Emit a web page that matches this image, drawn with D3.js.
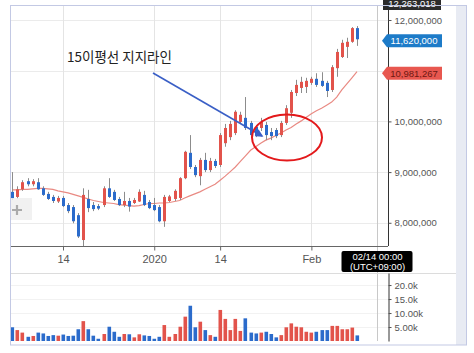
<!DOCTYPE html>
<html>
<head>
<meta charset="utf-8">
<script src="https://cdn.jsdelivr.net/npm/d3@7"></script>
<style>
  body { margin: 0; background: #fff; }
  svg { display: block; }
  text { font-family: Arial, "Liberation Sans", sans-serif; }
</style>
</head>
<body>
<svg id="chart" width="474" height="353"></svg>
<script>
// BTC/KRW daily candles, prices in thousand KRW
var dates = [
  '2019-12-04','2019-12-05','2019-12-06','2019-12-07','2019-12-08','2019-12-09','2019-12-10','2019-12-11','2019-12-12','2019-12-13',
  '2019-12-14','2019-12-15','2019-12-16','2019-12-17','2019-12-18','2019-12-19','2019-12-20','2019-12-21','2019-12-22','2019-12-23',
  '2019-12-24','2019-12-25','2019-12-26','2019-12-27','2019-12-28','2019-12-29','2019-12-30','2019-12-31',
  '2020-01-01','2020-01-02','2020-01-03','2020-01-04','2020-01-05','2020-01-06','2020-01-07','2020-01-08','2020-01-09','2020-01-10',
  '2020-01-11','2020-01-12','2020-01-13','2020-01-14','2020-01-15','2020-01-16','2020-01-17','2020-01-18','2020-01-19','2020-01-20',
  '2020-01-21','2020-01-22','2020-01-23','2020-01-24','2020-01-25','2020-01-26','2020-01-27','2020-01-28','2020-01-29','2020-01-30','2020-01-31',
  '2020-02-01','2020-02-02','2020-02-03','2020-02-04','2020-02-05','2020-02-06','2020-02-07','2020-02-08','2020-02-09','2020-02-10'
];
var opens = [
  8610, 8510, 8660, 8820, 8760, 8800, 8680, 8570, 8510, 8420,
  8490, 8350, 8310, 8150, 7660, 8470, 8350, 8330, 8350, 8680,
  8610, 8470, 8350, 8430, 8390, 8420, 8550, 8410,
  8350, 8310, 8030, 8430, 8470, 8490, 8880, 9380, 9100, 8920,
  9240, 9040, 9220, 9140, 9570, 9690, 9770, 9990, 10070, 9970,
  9890, 9870, 9930, 9790, 9830, 9730, 9970, 10170, 10560, 10660, 10680,
  10760, 10840, 10800, 10760, 10620, 11050, 11270, 11470, 11570, 11840
];
var highs = [
  9000, 8720, 8840, 8880, 8860, 8880, 8720, 8610, 8550, 8530,
  8530, 8390, 8350, 8190, 8680, 8650, 8410, 8370, 8720, 8880,
  8650, 8510, 8610, 8490, 8490, 8660, 8630, 8450,
  8490, 8350, 8550, 8550, 8660, 8900, 9420, 9730, 9140, 9280,
  9380, 9280, 9260, 9770, 9950, 10010, 10220, 10190, 10480, 10010,
  9930, 10070, 9990, 9870, 9870, 10010, 10320, 10620, 10820, 10880, 10860,
  10880, 10950, 10970, 10800, 11110, 11430, 11610, 11650, 11860, 11880
];
var lows = [
  8450, 8470, 8630, 8720, 8720, 8650, 8530, 8450, 8390, 8390,
  8310, 8190, 7990, 7700, 7480, 8210, 8230, 8250, 8310, 8490,
  8430, 8330, 8310, 8220, 8370, 8410, 8330, 8270,
  8230, 8010, 7920, 8410, 8430, 8450, 8860, 9060, 8900, 8740,
  9000, 9000, 9080, 9100, 9500, 9630, 9730, 9950, 9830, 9690,
  9690, 9810, 9630, 9630, 9670, 9690, 9930, 10070, 10500, 10560, 10560,
  10720, 10680, 10680, 10480, 10580, 10880, 11250, 11250, 11550, 11490
];
var closes = [
  8480, 8660, 8800, 8760, 8820, 8660, 8550, 8470, 8430, 8490,
  8330, 8230, 8030, 7730, 8550, 8290, 8270, 8280, 8680, 8510,
  8450, 8350, 8430, 8320, 8450, 8610, 8350, 8290,
  8250, 8030, 8510, 8520, 8630, 8880, 9400, 9100, 8940, 9240,
  9040, 9220, 9120, 9730, 9870, 9950, 10190, 10130, 9870, 9730,
  9730, 9990, 9730, 9710, 9710, 9970, 10260, 10580, 10720, 10780, 10800,
  10840, 10720, 10700, 10600, 11070, 11370, 11550, 11570, 11840, 11620
];
// 15-day moving average
var ma15 = [
  8650, 8650, 8660, 8660, 8670, 8680, 8680, 8670, 8660, 8630,
  8610, 8590, 8560, 8530, 8500, 8470, 8440, 8420, 8400, 8390,
  8380, 8360, 8350, 8340, 8330, 8340, 8360, 8380,
  8380, 8390, 8390, 8400, 8420, 8440, 8490, 8530, 8570, 8610,
  8660, 8710, 8760, 8840, 8920, 9010, 9100, 9210, 9320, 9430,
  9500, 9570, 9630, 9670, 9720, 9770, 9830, 9880, 9950, 10010, 10080,
  10150, 10210, 10260, 10320, 10380, 10480, 10620, 10740, 10860, 10981.267
];
// volume, thousands
var volume = [
  4.9, 3.9, 3.0, 1.5, 1.8, 3.0, 2.7, 1.8, 2.1, 1.9,
  2.3, 1.8, 1.9, 4.2, 7.1, 4.2, 1.9, 0.8, 2.5, 5.1,
  3.3, 1.5, 2.5, 2.4, 1.3, 2.4, 2.0, 1.8,
  0.8, 1.5, 5.7, 1.5, 2.5, 5.1, 8.7, 12.6, 4.9, 6.9,
  3.9, 2.1, 1.5, 11.1, 7.9, 3.9, 7.9, 3.6, 8.1, 3.0,
  2.7, 3.0, 3.3, 2.5, 1.3, 2.1, 4.9, 6.3, 5.1, 4.9, 3.3,
  3.0, 3.3, 3.9, 3.9, 5.4, 5.4, 4.2, 4.2, 4.8, 2.0
];

var priceTicks = [8000, 9000, 10000, 11000, 12000];
var priceTickLabels = ['8,000,000', '9,000,000', '10,000,000', '11,000,000', '12,000,000'];
var dateTicks = ['2019-12-14', '2020-01-01', '2020-01-14', '2020-02-01'];
var dateTickLabels = ['14', '2020', '14', 'Feb'];
var volTicks = [5, 10, 15, 20];
var volTickLabels = ['5.00k', '10.00k', '15.0k', '20.0k'];

var topPrice = 12263.018;
var lastPrice = 11620;
var lastMa = 10981.267;
var crossDate = '2020-02-14';

var parse = d3.timeParse('%Y-%m-%d');
var candles = dates.map(function(d, i) {
  return { date: parse(d), o: opens[i], h: highs[i], l: lows[i], c: closes[i], ma: ma15[i], v: volume[i] };
});

var svg = d3.select('#chart');
var RED = '#e2534b', BLUE = '#2b6bcb';

var plotLeft = 10, axisX = 388, plotTop = 5, mainBottom = 246, volTop = 273, volBottom = 341;

var x = d3.scaleTime()
  .domain([parse('2019-12-14'), parse('2020-02-10')])
  .range([63, 357]);
var y = d3.scaleLinear().domain([7542, 12296]).range([mainBottom, plotTop]);
var yv = d3.scaleLinear().domain([0, 24.3]).range([volBottom, volTop]);

// right strip
svg.append('rect').attr('x', 456).attr('y', 5.5).attr('width', 10).attr('height', 339.5).attr('fill', '#e8ebf3');

svg.append('clipPath').attr('id', 'mainClip')
  .append('rect').attr('x', plotLeft).attr('y', plotTop).attr('width', axisX - plotLeft).attr('height', mainBottom - plotTop);
svg.append('clipPath').attr('id', 'volClip')
  .append('rect').attr('x', plotLeft).attr('y', volTop).attr('width', axisX - plotLeft).attr('height', volBottom - volTop);

// grid
var grid = svg.append('g');
grid.selectAll('.hg').data(priceTicks).enter().append('line')
  .attr('x1', plotLeft).attr('x2', axisX)
  .attr('y1', function(d) { return Math.round(y(d)) + 0.5; })
  .attr('y2', function(d) { return Math.round(y(d)) + 0.5; })
  .attr('stroke', '#ebebeb');
grid.selectAll('.vg').data(dateTicks).enter().append('line')
  .attr('x1', function(d) { return Math.round(x(parse(d))) + 0.5; })
  .attr('x2', function(d) { return Math.round(x(parse(d))) + 0.5; })
  .attr('y1', plotTop).attr('y2', mainBottom)
  .attr('stroke', '#e4e4e4');
grid.selectAll('.vgv').data(volTicks).enter().append('line')
  .attr('x1', plotLeft).attr('x2', axisX)
  .attr('y1', function(d) { return Math.round(yv(d)) + 0.5; })
  .attr('y2', function(d) { return Math.round(yv(d)) + 0.5; })
  .attr('stroke', '#f2f2f2');

// crosshair
var cx = Math.round(x(parse(crossDate))) + 0.5;
svg.append('line').attr('x1', cx).attr('x2', cx).attr('y1', plotTop).attr('y2', volBottom)
  .attr('stroke', '#c8c8c8');

// moving average
var main = svg.append('g').attr('clip-path', 'url(#mainClip)');
main.append('path')
  .datum(candles)
  .attr('fill', 'none')
  .attr('stroke', '#e98a83')
  .attr('stroke-width', 1.2)
  .attr('d', d3.line()
    .x(function(d) { return x(d.date); })
    .y(function(d) { return y(d.ma); }));

// candles
var cg = main.selectAll('.candle').data(candles).enter().append('g');
cg.append('line')
  .attr('x1', function(d) { return Math.round(x(d.date)) + 0.5; })
  .attr('x2', function(d) { return Math.round(x(d.date)) + 0.5; })
  .attr('y1', function(d) { return y(d.h); })
  .attr('y2', function(d) { return y(d.l); })
  .attr('stroke', '#8c8c8c');
cg.append('rect')
  .attr('x', function(d) { return Math.round(x(d.date)) - 1; })
  .attr('width', 3)
  .attr('y', function(d) { return y(Math.max(d.o, d.c)); })
  .attr('height', function(d) { return Math.max(1, Math.abs(y(d.o) - y(d.c))); })
  .attr('fill', function(d) { return d.c >= d.o ? RED : BLUE; });

// volume bars
svg.append('g').attr('clip-path', 'url(#volClip)')
  .selectAll('rect').data(candles).enter().append('rect')
  .attr('x', function(d) { return Math.round(x(d.date)) - 1.5; })
  .attr('width', 3.6)
  .attr('y', function(d) { return yv(d.v); })
  .attr('height', function(d) { return volBottom - yv(d.v); })
  .attr('fill', function(d) { return d.c >= d.o ? RED : BLUE; });

// axes
svg.append('line').attr('x1', plotLeft).attr('x2', axisX).attr('y1', mainBottom + 0.5).attr('y2', mainBottom + 0.5)
  .attr('stroke', '#666');
svg.append('line').attr('x1', plotLeft).attr('x2', 456).attr('y1', volTop + 0.5).attr('y2', volTop + 0.5)
  .attr('stroke', '#dcdcdc');

var xAxis = svg.append('g').attr('transform', 'translate(0,' + (mainBottom + 0.5) + ')')
  .call(d3.axisBottom(x)
    .tickValues(dateTicks.map(parse))
    .tickFormat(function(d, i) { return dateTickLabels[i]; })
    .tickSize(4).tickSizeOuter(0).tickPadding(5));
xAxis.select('.domain').remove();
xAxis.selectAll('line').attr('stroke', '#666');
xAxis.selectAll('text').attr('fill', '#555').style('font-size', '11px');

var yAxis = svg.append('g').attr('transform', 'translate(' + (axisX + 0.5) + ',0)')
  .call(d3.axisRight(y)
    .tickValues(priceTicks)
    .tickFormat(function(d, i) { return priceTickLabels[i]; })
    .tickSize(3).tickSizeOuter(0).tickPadding(3));
yAxis.select('.domain').attr('stroke', '#333').attr('d', 'M0,' + plotTop + 'V' + mainBottom);
yAxis.selectAll('line').attr('stroke', '#555');
yAxis.selectAll('text').attr('fill', '#555').style('font-size', '9.5px');

var vAxis = svg.append('g').attr('transform', 'translate(' + (axisX + 0.5) + ',0)')
  .call(d3.axisRight(yv)
    .tickValues(volTicks)
    .tickFormat(function(d, i) { return volTickLabels[i]; })
    .tickSize(3).tickSizeOuter(0).tickPadding(3));
vAxis.select('.domain').attr('stroke', '#333');
vAxis.selectAll('line').attr('stroke', '#555');
vAxis.selectAll('text').attr('fill', '#555').style('font-size', '9.5px');

// price labels on the axis
function priceTag(value, text, fill, color) {
  var yc = y(value) + 1.5;
  svg.append('path')
    .attr('d', 'M382,' + yc + 'L387,' + (yc - 6.5) + 'H442V' + (yc + 6.5) + 'H387Z')
    .attr('fill', fill);
  svg.append('text').attr('x', 414).attr('y', yc + 3.5).attr('text-anchor', 'middle')
    .attr('fill', color).style('font-size', '9.5px').text(text);
}
svg.append('rect').attr('x', 383).attr('y', -4).attr('width', 58).attr('height', 14).attr('fill', '#2b2b2b');
svg.append('text').attr('x', 412).attr('y', y(topPrice) + 0.5).attr('text-anchor', 'middle')
  .attr('fill', '#fff').style('font-size', '9.5px').text(d3.format(',')(Math.round(topPrice * 1000)));
priceTag(lastPrice, d3.format(',')(lastPrice * 1000), '#1d7bc8', '#fff');
priceTag(lastMa, d3.format(',')(Math.round(lastMa * 1000)), '#e8574f', '#6e1712');

// date tag at crosshair
svg.append('rect').attr('x', cx - 36).attr('y', 251).attr('width', 71).attr('height', 21).attr('rx', 2)
  .attr('fill', '#000');
svg.append('text').attr('x', cx).attr('y', 260).attr('text-anchor', 'middle').attr('fill', '#fff')
  .style('font-size', '9.5px').text('02/14 00:00');
svg.append('text').attr('x', cx).attr('y', 270).attr('text-anchor', 'middle').attr('fill', '#fff')
  .style('font-size', '9.5px').text('(UTC+09:00)');

// zoom button
svg.append('rect').attr('x', 10).attr('y', 198).attr('width', 22).attr('height', 22).attr('fill', '#eeeeee').attr('opacity', 0.85);
svg.append('path').attr('d', 'M12,210H22M17,205V215').attr('stroke', '#aaa').attr('stroke-width', 2.2);

// annotation
svg.append('defs').append('marker')
  .attr('id', 'arrow').attr('viewBox', '0 0 10 10').attr('refX', 8).attr('refY', 5)
  .attr('markerWidth', 5).attr('markerHeight', 5).attr('orient', 'auto')
  .append('path').attr('d', 'M0,0L10,5L0,10Z').attr('fill', '#3a5fc6');
svg.append('line').attr('x1', 153).attr('y1', 73).attr('x2', 262).attr('y2', 136)
  .attr('stroke', '#3a5fc6').attr('stroke-width', 1.6).attr('marker-end', 'url(#arrow)');
svg.append('text').attr('x', 67).attr('y', 62)
  .style('font-family', '"Noto Sans CJK KR", "Noto Sans", sans-serif').style('font-size', '13.5px')
  .attr('fill', '#222').text('15이평선 지지라인');
svg.append('ellipse').attr('cx', 287).attr('cy', 137.5).attr('rx', 35).attr('ry', 23)
  .attr('fill', 'none').attr('stroke', '#e3191b').attr('stroke-width', 2);

// outer frame
svg.append('rect').attr('x', 10.5).attr('y', 5.5).attr('width', 456).attr('height', 339.5)
  .attr('fill', 'none').attr('stroke', '#c3c9e4');
</script>
</body>
</html>
